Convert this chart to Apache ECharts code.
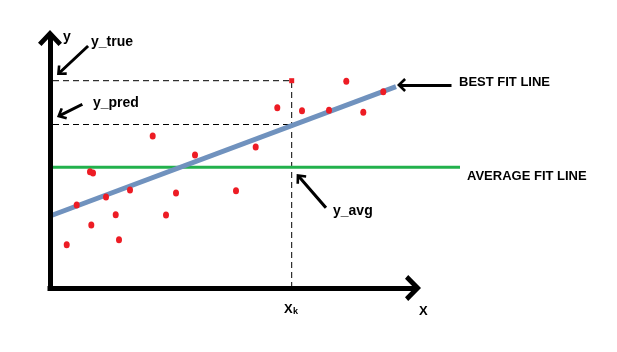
<!DOCTYPE html>
<html>
<head>
<meta charset="utf-8">
<script src="https://cdn.jsdelivr.net/npm/echarts@6/dist/echarts.min.js"></script>
<style>
  html, body { margin: 0; padding: 0; background: #fff; }
  #chart { width: 617px; height: 352px; }
</style>
</head>
<body>
<div id="chart"></div>
<script>
// scattered observations (origin = corner of the drawn axes)
const pointX = [102.7, 145, 205.7, 40, 43, 26.7, 56, 80, 126, 186, 65.7, 116, 41.3, 16.7, 69, 296.3, 227.3, 252, 279, 313.3, 333.3];
const pointY = [152, 133, 141, 116.3, 115, 83, 91, 98, 95, 97.3, 73.3, 73, 63, 43.3, 48.3, 206.7, 180.3, 177.3, 177.7, 175.7, 196.3];

// the highlighted point x_k and its three y values
const xk = 241.7;
const yTrue = 207.3;
const yPred = 163.5;
const yAvg = 120.7;

// best fit line end points
const fitX = [0, 346];
const fitY = [72, 201.3];
// average fit line extent
const avgX = [0, 410];

// axis extents
const xMax = 410;
const yMax = 258;

const RED = '#ed1c24';
const BLUE = '#7092be';
const GREEN = '#22b14c';

// open "V" arrow head, pointing up
const chevron = 'path://M0,12 L12,0 L24,12 L20.5,15 L12,6.5 L3.5,15 Z';

const myChart = echarts.init(document.getElementById('chart'));

const scatterData = pointX.map((x, i) => [x, pointY[i]]);
scatterData.push({ value: [xk, yTrue], symbol: 'rect', symbolSize: 5 });

function arrow(from, to, size, width) {
  return [
    { coord: from, symbol: 'none', lineStyle: { width: width } },
    { coord: to, symbol: chevron, symbolSize: size }
  ];
}

const option = {
  animation: false,
  backgroundColor: '#fff',
  grid: { left: 50, right: 617 - 50 - xMax, top: 30, bottom: 64 },
  xAxis: { type: 'value', min: 0, max: xMax, show: false },
  yAxis: { type: 'value', min: 0, max: yMax, show: false },
  series: [
    {
      // dashed guides
      type: 'line', symbol: 'none', silent: true,
      data: [[3, yTrue], [xk, yTrue]],
      lineStyle: { color: '#000', width: 1, type: [6, 4] }
    },
    {
      type: 'line', symbol: 'none', silent: true,
      data: [[3, yPred], [xk, yPred]],
      lineStyle: { color: '#000', width: 1, type: [6, 4] }
    },
    {
      type: 'line', symbol: 'none', silent: true,
      data: [[xk, 0], [xk, yTrue]],
      lineStyle: { color: '#000', width: 1, type: [6, 4] }
    },
    {
      name: 'average', type: 'line', symbol: 'none', silent: true,
      data: [[avgX[0], yAvg], [avgX[1], yAvg]],
      lineStyle: { color: GREEN, width: 3 }
    },
    {
      name: 'best fit', type: 'line', symbol: 'none', silent: true,
      data: [[fitX[0], fitY[0]], [fitX[1], fitY[1]]],
      lineStyle: { color: BLUE, width: 5 },
      z: 3
    },
    {
      type: 'scatter', silent: true, z: 5,
      symbol: 'circle', symbolSize: [6, 7],
      itemStyle: { color: RED, opacity: 1 },
      data: scatterData
    },
    {
      // axes and pointer arrows
      type: 'line', data: [], silent: true, z: 6,
      markLine: {
        silent: true, animation: false,
        symbol: ['none', 'none'],
        label: { show: false },
        lineStyle: { color: '#000', type: 'solid', cap: 'square', opacity: 1 },
        data: [
          arrow([0, 0], [363, 0], [26, 16], 5),
          arrow([0, 0], [0, 250], [24, 16], 5),
          arrow([37, 241], [10.3, 216], [13, 9], 3),
          arrow([31, 183], [11, 173], [13, 9], 3),
          arrow([400, 203], [351.5, 203], [14, 9], 3),
          arrow([275, 81.3], [249.6, 110.6], [13, 9], 3)
        ]
      }
    }
  ],
  graphic: [
    { type: 'text', style: { x: 63, y: 37, text: 'y', font: 'bold 14px "Liberation Sans", Arial', fill: '#000', verticalAlign: 'middle' } },
    { type: 'text', style: { x: 91, y: 42, text: 'y_true', font: 'bold 14px "Liberation Sans", Arial', fill: '#000', verticalAlign: 'middle' } },
    { type: 'text', style: { x: 93, y: 103, text: 'y_pred', font: 'bold 14px "Liberation Sans", Arial', fill: '#000', verticalAlign: 'middle' } },
    { type: 'text', style: { x: 459, y: 82, text: 'BEST FIT LINE', font: 'bold 13px "Liberation Sans", Arial', fill: '#000', verticalAlign: 'middle' } },
    { type: 'text', style: { x: 467, y: 176, text: 'AVERAGE FIT LINE', font: 'bold 13px "Liberation Sans", Arial', fill: '#000', verticalAlign: 'middle' } },
    { type: 'text', style: { x: 333, y: 211, text: 'y_avg', font: 'bold 14px "Liberation Sans", Arial', fill: '#000', verticalAlign: 'middle' } },
    { type: 'text', style: { x: 284, y: 309, text: 'X', font: 'bold 13px "Liberation Sans", Arial', fill: '#000', verticalAlign: 'middle' } },
    { type: 'text', style: { x: 293, y: 312, text: 'k', font: 'bold 9px "Liberation Sans", Arial', fill: '#000', verticalAlign: 'middle' } },
    { type: 'text', style: { x: 419, y: 311, text: 'X', font: 'bold 13px "Liberation Sans", Arial', fill: '#000', verticalAlign: 'middle' } }
  ]
};

myChart.setOption(option);
</script>
</body>
</html>
